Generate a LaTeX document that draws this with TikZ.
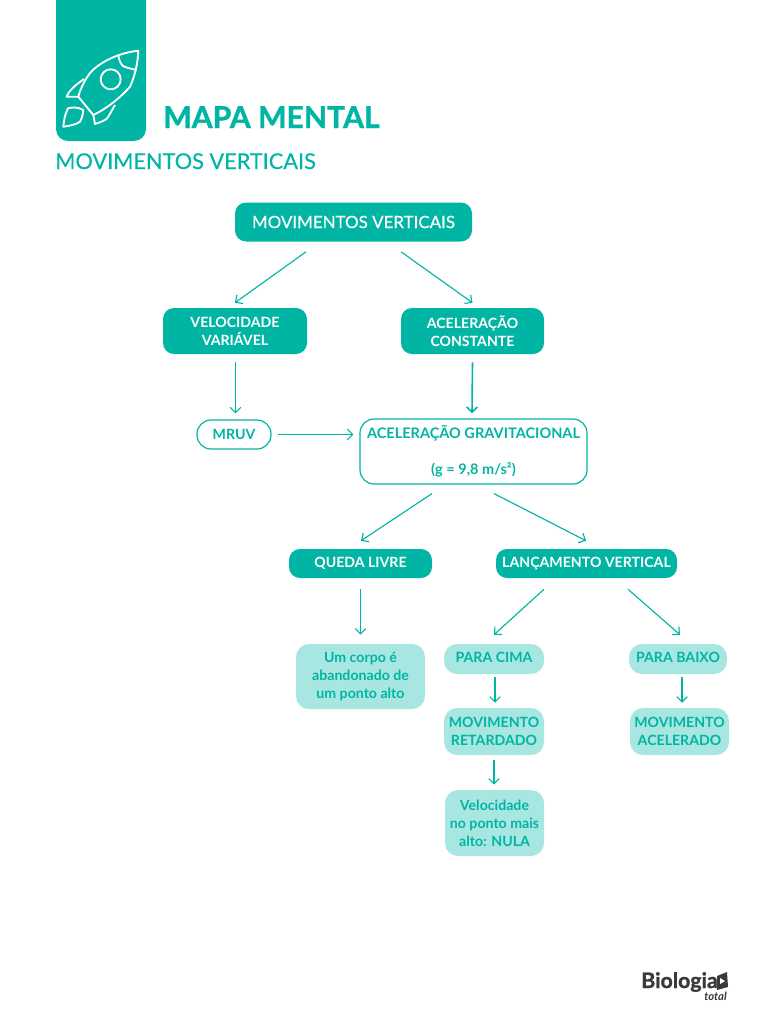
\documentclass[tikz,border=0pt]{standalone}
\usepackage{fontspec}
\setmainfont{Lato}
\newfontfamily\headfont[FakeBold=1.2]{Lato Bold}
\newfontfamily\medfont[FakeBold=0.3]{Lato}
\usetikzlibrary{calc}
\usetikzlibrary{arrows.meta}

\definecolor{teal1}{HTML}{00B5A4}
\definecolor{softteal}{HTML}{A8E7E1}
\definecolor{logogray}{HTML}{3A3A3A}
\def\px{0.75pt}

\tikzset{
	box/.style={align=center, inner sep=0pt, font=\fontsize{10.6}{13.5}\selectfont\bfseries},
	solidbox/.style={box, fill=teal1, text=white, rounded corners=11*\px},
	outlinebox/.style={box, draw=teal1, line width=0.9pt, text=teal1, rounded corners=14*\px},
	softbox/.style={box, fill=softteal, text=teal1, rounded corners=13*\px},
	link/.style={-{Straight Barb[length=4pt, width=8pt]}, draw=teal1, line width=0.85pt},
}

\begin{document}
\begin{tikzpicture}[x=0.75pt, y=-0.75pt]
	\useasboundingbox (0,0) rectangle (768,1024);

	% header tab and rocket
	\fill[teal1] (56,-5) -- (146,-5) -- (146,129) arc[start angle=0, end angle=90, radius=12] -- (68,141) arc[start angle=90, end angle=180, radius=12] -- cycle;
	\begin{scope}[draw=white, line width=1.4pt, line join=round]
		\draw (138.3,50.7) .. controls (118,53) and (100,62) .. (90,73) .. controls (84,81) and (80,90) .. (78.3,96.7) -- (93.3,115) .. controls (108,108) and (122,96) .. (130,86.7) .. controls (135,76) and (138,62) .. (138.3,50.7) -- cycle;
		\draw (118.3,55) .. controls (119,61) and (121,64) .. (123,66) .. controls (127,68) and (132,69) .. (136.7,70);
		\draw (110.7,79.3) circle (10);
		\draw (84,79) .. controls (77,84) and (69,90) .. (66.7,96.7) -- (78.3,96.7);
		\draw (93.3,115) -- (95,124) .. controls (101,122) and (107,120) .. (108.3,116.7) -- (115,105);
		\draw (68,108.3) .. controls (65,114) and (64,120) .. (63.3,126.7) .. controls (70,126) and (77,124) .. (80,121.7) .. controls (82,118) and (83,114) .. (83.3,110) .. controls (78,107) and (72,107) .. (68,108.3) -- cycle;
	\end{scope}

	\node[anchor=base west, inner sep=0pt, text=teal1, font=\fontsize{22.6}{23}\headfont] (mapa) at (163,128) {MAPA MENTAL};
	\node[anchor=base west, inner sep=0pt, text=teal1, font=\fontsize{16.3}{18}\medfont] (subtitle) at (55,169) {MOVIMENTOS VERTICAIS};

	% boxes
	\node[solidbox, minimum width=237*\px, minimum height=39*\px, font=\fontsize{12.7}{14}\medfont] (top) at (353.5,222) {MOVIMENTOS VERTICAIS};
	\node[solidbox, minimum width=144*\px, minimum height=46*\px] (vel) at (235,331) {VELOCIDADE\\VARIÁVEL};
	\node[solidbox, minimum width=143*\px, minimum height=46*\px] (acel) at (472.5,331) {ACELERAÇÃO\\CONSTANTE};
	\node[outlinebox, minimum width=74*\px, minimum height=29*\px] (mruv) at (234,434.5) {MRUV};
	\node[outlinebox, minimum width=227*\px, minimum height=65*\px, font=\fontsize{10.9}{13.5}\selectfont\bfseries] (grav) at (473.5,451.5) {ACELERAÇÃO GRAVITACIONAL\\[13.5pt](g = 9,8 m/s²)};
	\node[solidbox, minimum width=143*\px, minimum height=29*\px] (queda) at (360.5,563.5) {QUEDA LIVRE};
	\node[solidbox, minimum width=181*\px, minimum height=29*\px] (lanc) at (586.5,563.5) {LANÇAMENTO VERTICAL};
	\node[softbox, minimum width=129*\px, minimum height=65*\px] (corpo) at (360.5,676.5) {Um corpo é\\abandonado de\\um ponto alto};
	\node[softbox, minimum width=100*\px, minimum height=30*\px, text depth=2pt] (cima) at (494,659) {PARA CIMA};
	\node[softbox, minimum width=98*\px, minimum height=30*\px, text depth=2pt] (baixo) at (678,659) {PARA BAIXO};
	\node[softbox, minimum width=100*\px, minimum height=47*\px] (ret) at (494,731.5) {MOVIMENTO\\RETARDADO};
	\node[softbox, minimum width=99*\px, minimum height=47*\px] (ace) at (679.5,731.5) {MOVIMENTO\\ACELERADO};
	\node[softbox, minimum width=99*\px, minimum height=66*\px] (velo) at (494.5,823) {Velocidade\\no ponto mais\\alto: NULA};

	% connectors
	\draw[link] ($(top.south)+(-47.5,10)$) -- ($(vel.north)+(0,-5)$);
	\draw[link] ($(top.south)+(47.5,10)$) -- ($(acel.north)+(0,-5)$);
	\draw[link] ($(vel.south)+(0.5,8)$) -- ($(mruv.north)+(1.5,-6)$);
	\draw[link, line width=1.2pt] ($(acel.south)+(0,8)$) -- ($(grav.north)+(-1.5,-5)$);
	\draw[link] ($(mruv.east)+(6,0)$) -- ($(grav.west)+(-6,-17)$);
	\draw[link] ($(grav.south)+(-41.5,9)$) -- ($(queda.north)+(0.5,-8)$);
	\draw[link] ($(grav.south)+(20.5,9)$) -- ($(lanc.north)+(-0.5,-8)$);
	\draw[link] ($(queda.south)+(0,11)$) -- ($(corpo.north)+(0,-9)$);
	\draw[link] ($(lanc.south)+(-42.5,11)$) -- ($(cima.north)+(0,-9)$);
	\draw[link] ($(lanc.south)+(41.5,11)$) -- ($(baixo.north)+(2,-9)$);
	\draw[link] ($(cima.south)+(1,3)$) -- ($(ret.north)+(1,-5)$);
	\draw[link] ($(baixo.south)+(4,3)$) -- ($(ace.north)+(2.5,-5)$);
	\draw[link] ($(ret.south)+(0,5)$) -- ($(velo.north)+(-0.5,-5)$);

	% logo
	\node[anchor=base west, inner sep=0pt, text=logogray, font=\fontsize{16}{16}\headfont] (logo) at (641,988) {Biologia};
	\node[anchor=base east, inner sep=0pt, text=logogray, font=\fontsize{8.5}{9}\selectfont\bfseries\itshape] (logosub) at (727,1000) {total};
	\fill[logogray] (717,976) -- (727,972) -- (728,987) -- (717,990) -- cycle;
	\fill[white] (720,978) -- (725,981) -- (720,984) -- cycle;
\end{tikzpicture}
\end{document}
